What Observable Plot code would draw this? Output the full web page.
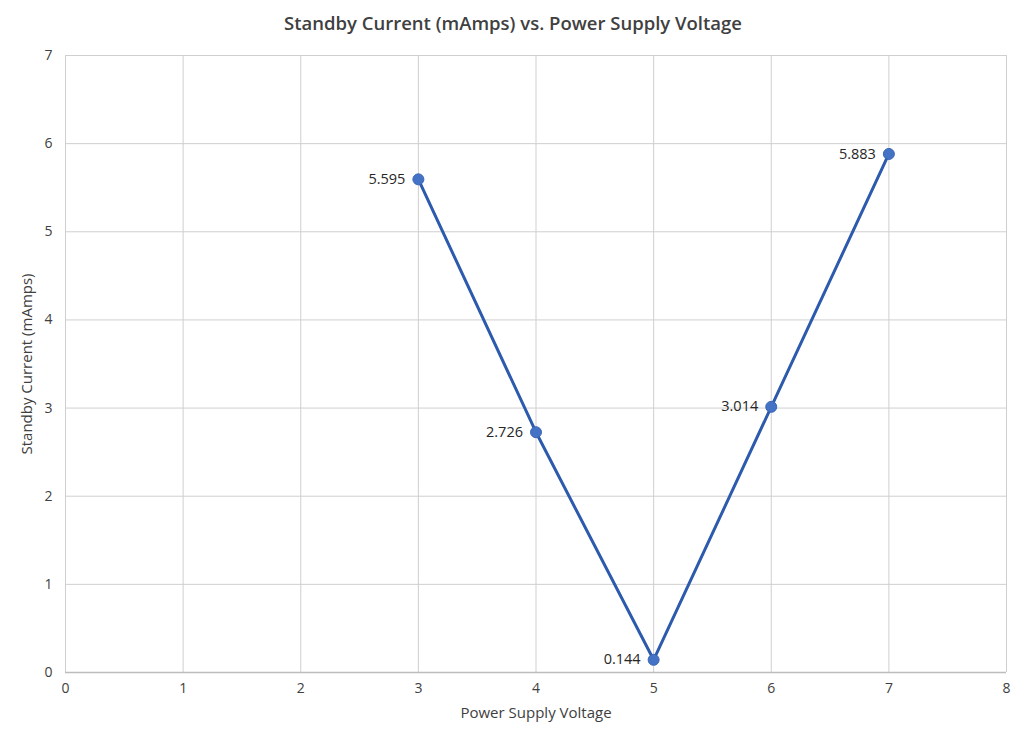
<!DOCTYPE html>
<html>
<head>
<meta charset="utf-8">
<script src="https://cdn.jsdelivr.net/npm/d3@7"></script>
<script src="https://cdn.jsdelivr.net/npm/@observablehq/plot@0.6"></script>
<style>
  body { margin: 0; background: #fff; font-family: "Open Sans", sans-serif; }
  #title { height: 45px; line-height: 46px; text-align: center; font-size: 18.5px; font-weight: 600; color: #404040; padding-left: 2px; }
</style>
</head>
<body>
<div id="title">Standby Current (mAmps) vs. Power Supply Voltage</div>
<div id="chart"></div>
<script>
const voltage = [3, 4, 5, 6, 7];
const current = [5.595, 2.726, 0.144, 3.014, 5.883];
const labels = ["5.595", "2.726", "0.144", "3.014", "5.883"];
const xTicks = [0, 1, 2, 3, 4, 5, 6, 7, 8];
const yTicks = [0, 1, 2, 3, 4, 5, 6, 7];

const data = voltage.map((v, i) => ({v, c: current[i], label: labels[i]}));

const chart = Plot.plot({
  width: 1024,
  height: 697,
  marginTop: 10,
  marginLeft: 65,
  marginRight: 18,
  marginBottom: 70,
  style: {fontFamily: "Open Sans, sans-serif", fontSize: "14px", color: "#404040", background: "#fff"},
  x: {domain: [0, 8], ticks: xTicks, label: null, tickSize: 0, tickPadding: 12},
  y: {domain: [0, 7], ticks: yTicks, label: null, tickSize: 0, tickPadding: 12},
  marks: [
    Plot.gridX(xTicks, {stroke: "#cfcfcf", strokeOpacity: 1, strokeWidth: 1}),
    Plot.gridY(yTicks, {stroke: "#cfcfcf", strokeOpacity: 1, strokeWidth: 1}),
    Plot.ruleY([0], {stroke: "#bdbdbd", strokeWidth: 1.5}),
    Plot.axisX(xTicks, {tickSize: 0, tickPadding: 11, fontSize: 14, fill: "#404040", label: null, tickFormat: d => String(d)}),
    Plot.axisY(yTicks, {tickSize: 0, tickPadding: 13, fontSize: 14, fill: "#404040", label: null, tickFormat: d => String(d)}),
    Plot.text(["Power Supply Voltage"], {frameAnchor: "bottom", dy: 45, fontSize: 15, fill: "#404040"}),
    Plot.text(["Standby Current (mAmps)"], {frameAnchor: "left", textAnchor: "middle", dx: -38, rotate: -90, fontSize: 15, fill: "#404040"}),
    Plot.line(data, {x: "v", y: "c", stroke: "#2c5aad", strokeWidth: 3}),
    Plot.dot(data, {x: "v", y: "c", r: 5.5, fill: "#4472c4", stroke: "#3a66b8", strokeWidth: 1}),
    Plot.text(data, {x: "v", y: "c", text: "label", textAnchor: "end", dx: -13, fontSize: 14.5, fill: "#262626"})
  ]
});
document.getElementById("chart").appendChild(chart);
</script>
</body>
</html>
